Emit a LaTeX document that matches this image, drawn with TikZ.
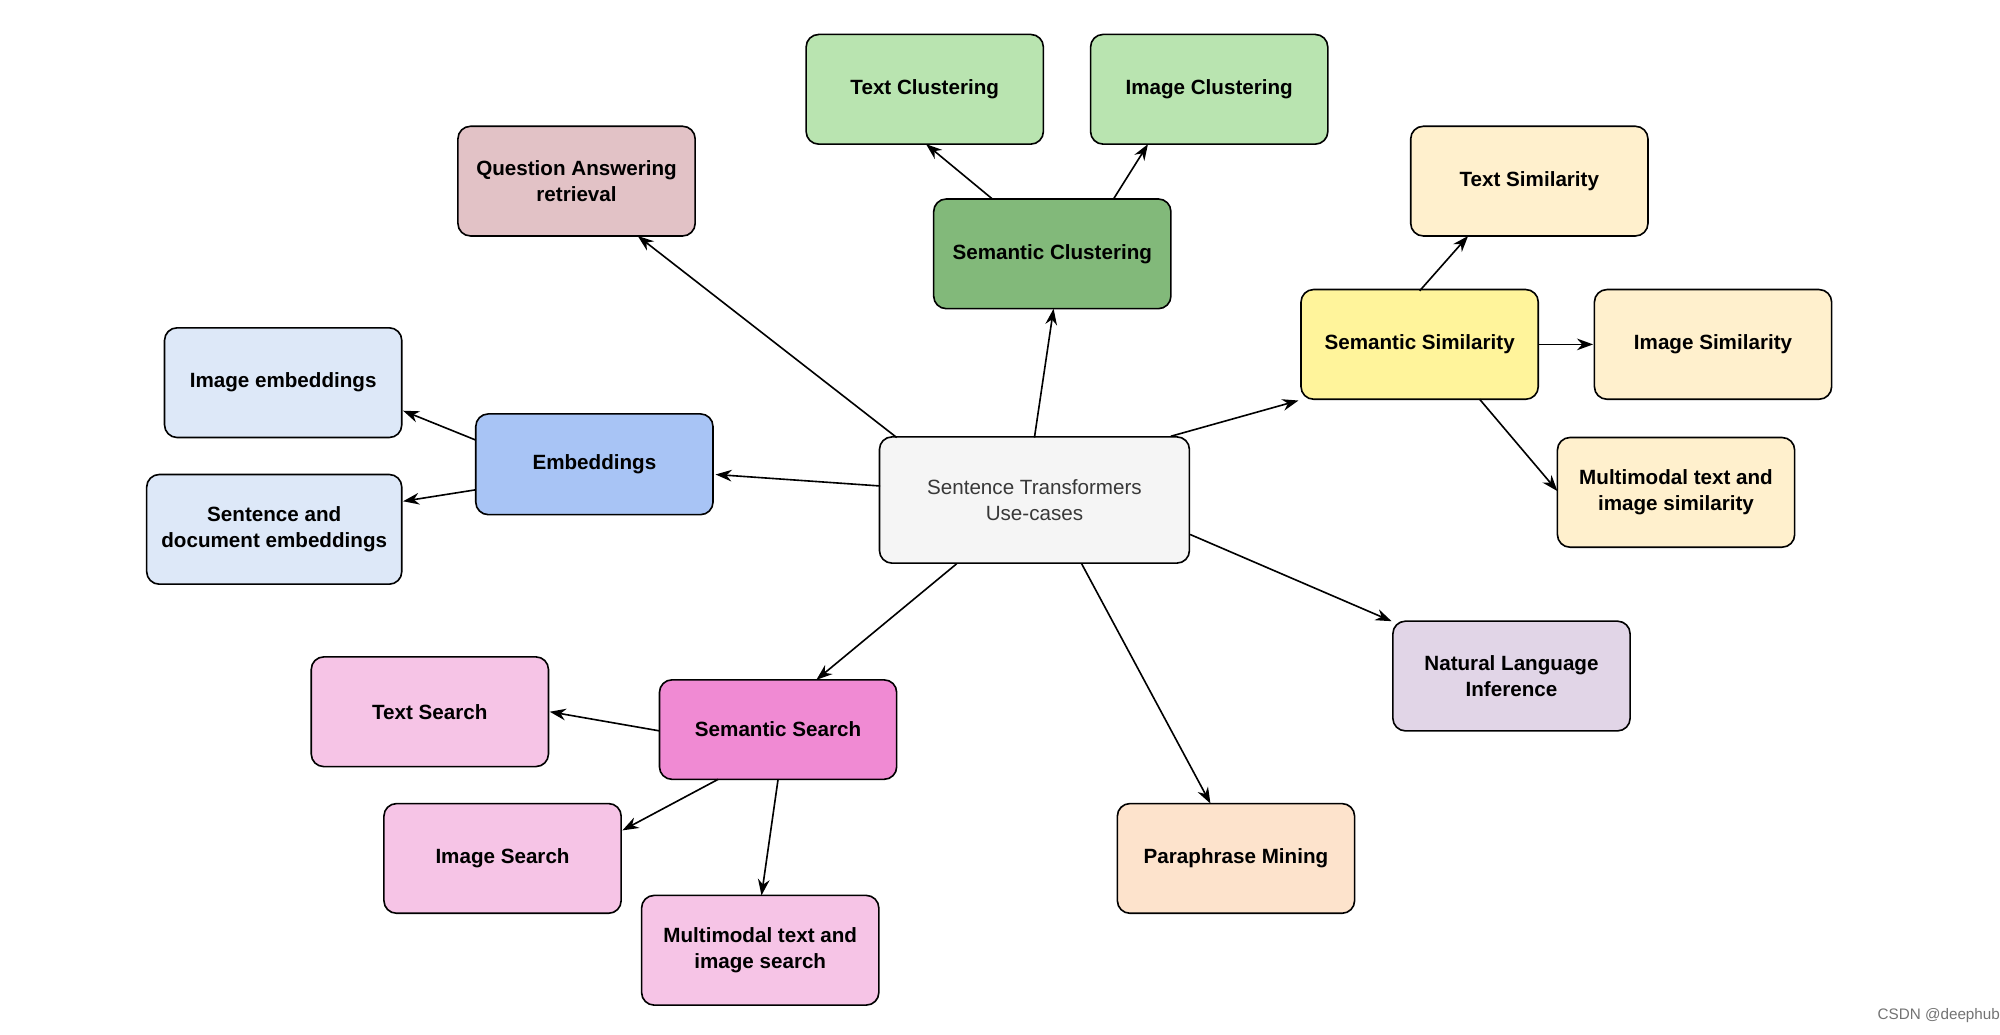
\documentclass[tikz,border=0pt]{standalone}
\usepackage{fontspec}
\setmainfont{Liberation Sans}
\usetikzlibrary{arrows.meta}
\definecolor{cg}{HTML}{F5F5F5}
\definecolor{lg}{HTML}{B9E4B0}
\definecolor{dg}{HTML}{82B97A}
\definecolor{qa}{HTML}{E2C2C6}
\definecolor{ly}{HTML}{FFF0CD}
\definecolor{dy}{HTML}{FFF49B}
\definecolor{lb}{HTML}{DDE8F8}
\definecolor{db}{HTML}{A8C4F5}
\definecolor{pu}{HTML}{E1D5E7}
\definecolor{lp}{HTML}{F6C4E6}
\definecolor{dp}{HTML}{F08AD3}
\definecolor{or}{HTML}{FDE3CC}
\begin{document}
\begin{tikzpicture}[x=0.05cm,y=-0.05cm,
 box/.style={draw=black,line width=1.8pt,rounded corners=14pt,minimum width=9.3cm,minimum height=4.3cm,inner sep=0pt,align=center,font=\fontsize{23}{29}\selectfont\bfseries},
 ar/.style={line width=1.8pt,-{Stealth[length=18pt,width=13pt]}}]
\useasboundingbox (0,0) rectangle (1568,811);
\node[box,fill=cg,minimum width=12.15cm,minimum height=4.95cm,text=black!78,font=\fontsize{23}{29}\selectfont] (c) at (811,392) {Sentence Transformers\\Use-cases};
\node[box,fill=lg] (tc) at (725,70) {Text Clustering};
\node[box,fill=lg] (ic) at (948,70) {Image Clustering};
\node[box,fill=dg] (sc) at (825,199) {Semantic Clustering};
\node[box,fill=qa] (qa) at (452,142) {Question Answering\\retrieval};
\node[box,fill=ly] (tsim) at (1199,142) {Text Similarity};
\node[box,fill=dy] (ss) at (1113,270) {Semantic Similarity};
\node[box,fill=ly] (isim) at (1343,270) {Image Similarity};
\node[box,fill=ly] (msim) at (1314,386) {Multimodal text and\\image similarity};
\node[box,fill=lb] (ie) at (222,300) {Image embeddings};
\node[box,fill=db,minimum height=3.95cm] (emb) at (466,364) {Embeddings};
\node[box,fill=lb,minimum width=10cm] (sd) at (215,415) {Sentence and\\document embeddings};
\node[box,fill=pu] (nli) at (1185,530) {Natural Language\\Inference};
\node[box,fill=lp] (tse) at (337,558) {Text Search};
\node[box,fill=dp,minimum height=3.9cm] (sse) at (610,572) {Semantic Search};
\node[box,fill=lp] (ise) at (394,673) {Image Search};
\node[box,fill=lp] (mse) at (596,745) {Multimodal text and\\image search};
\node[box,fill=or] (pm) at (969,673) {Paraphrase Mining};
\node[text=black!55,font=\fontsize{17}{20}\selectfont] (wm) at (1520,796) {CSDN @deephub};
\draw[ar] ([shift={(-108,-49)}]c.center) -- ([shift={(48,43)}]qa.center);
\draw[ar] ([shift={(0,-49)}]c.center) -- ([shift={(1,43)}]sc.center);
\draw[ar] ([shift={(-47,-43)}]sc.center) -- ([shift={(1,43)}]tc.center);
\draw[ar] ([shift={(48,-43)}]sc.center) -- ([shift={(-48,43)}]ic.center);
\draw[ar] ([shift={(107,-50)}]c.center) -- ([shift={(-95,44)}]ss.center);
\draw[ar] ([shift={(0,-42)}]ss.center) -- ([shift={(-48,43)}]tsim.center);
\draw[ar] ([shift={(93,0)}]ss.center) -- ([shift={(-94,0)}]isim.center);
\draw[ar] ([shift={(47,43)}]ss.center) -- ([shift={(-93,-1)}]msim.center);
\draw[ar] ([shift={(-121,-11)}]c.center) -- ([shift={(95,8)}]emb.center);
\draw[ar] ([shift={(-93,-19)}]emb.center) -- ([shift={(94,22)}]ie.center);
\draw[ar] ([shift={(-93,20)}]emb.center) -- ([shift={(101,-22)}]sd.center);
\draw[ar] ([shift={(122,27)}]c.center) -- ([shift={(-94,-43)}]nli.center);
\draw[ar] ([shift={(-61,50)}]c.center) -- ([shift={(30,-39)}]sse.center);
\draw[ar] ([shift={(37,50)}]c.center) -- ([shift={(-20,-43)}]pm.center);
\draw[ar] ([shift={(-93,1)}]sse.center) -- ([shift={(94,0)}]tse.center);
\draw[ar] ([shift={(-47,39)}]sse.center) -- ([shift={(94,-22)}]ise.center);
\draw[ar] ([shift={(0,39)}]sse.center) -- ([shift={(1,-43)}]mse.center);
\end{tikzpicture}
\end{document}
